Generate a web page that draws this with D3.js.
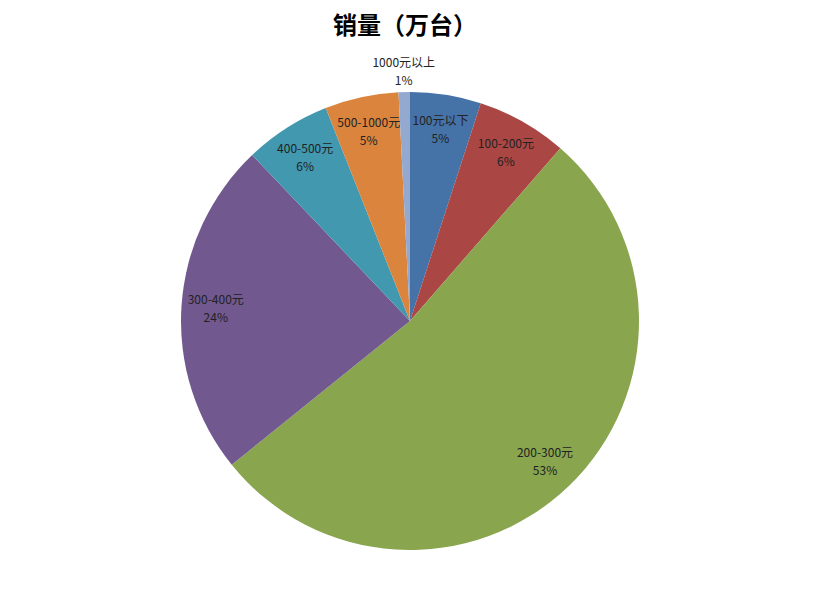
<!DOCTYPE html>
<html>
<head>
<meta charset="utf-8">
<script src="https://cdn.jsdelivr.net/npm/d3@7"></script>
<style>
  body { margin: 0; background: #fff; }
  svg { display: block; }
  .slice-label { font-family: "Noto Sans CJK SC", "DejaVu Sans", sans-serif; font-size: 12px; fill: #222; }
  .title { font-family: "Noto Sans CJK SC", sans-serif; font-size: 24px; font-weight: bold; fill: #000; }
</style>
</head>
<body>
<div id="vis-container"></div>
<script>
// categories and values (share of sales)
const categories = ["100元以下", "100-200元", "200-300元", "300-400元", "400-500元", "500-1000元", "1000元以上"];
const sales = [5.0, 6.4, 52.8, 23.7, 6.1, 5.2, 0.8];
const colors = ["#4572A7", "#AA4643", "#89A54E", "#71588F", "#4198AF", "#DB843D", "#93A9CF"];
const titleText = "销量（万台）";

let width = 829;
let height = 596;
let cx = 410, cy = 321, radius = 229;

let svg = d3.select("#vis-container").append("svg").attr("width", width).attr("height", height);

svg.append("text").attr("class", "title")
    .attr("x", 405).attr("y", 34)
    .attr("text-anchor", "middle")
    .text(titleText);

let data = categories.map((c, i) => ({ name: c, value: sales[i], color: colors[i] }));
let total = d3.sum(sales);

let pie = d3.pie().sort(null).value(d => d.value);
let arcs = pie(data);

let arc = d3.arc().innerRadius(0).outerRadius(radius);
let labelArc = d3.arc().innerRadius(radius * 0.85).outerRadius(radius * 0.85);
let outerLabelArc = d3.arc().innerRadius(radius * 1.09).outerRadius(radius * 1.09);

let g = svg.append("g").attr("transform", "translate(" + cx + "," + cy + ")");

g.selectAll("path").data(arcs).enter().append("path")
    .attr("d", arc)
    .attr("fill", d => d.data.color);

// labels: small slices go outside
let fmt = d3.format(".0%");
let labels = g.selectAll("g.lbl").data(arcs).enter().append("g")
    .attr("class", "lbl")
    .attr("transform", d => {
        let small = d.data.value / total < 0.02;
        let p = small ? outerLabelArc.centroid(d) : labelArc.centroid(d);
        return "translate(" + p[0] + "," + p[1] + ")";
    });

labels.append("text").attr("class", "slice-label")
    .attr("text-anchor", "middle").attr("y", -4)
    .text(d => d.data.name);
labels.append("text").attr("class", "slice-label")
    .attr("text-anchor", "middle").attr("y", 14)
    .text(d => fmt(d.data.value / total));
</script>
</body>
</html>
